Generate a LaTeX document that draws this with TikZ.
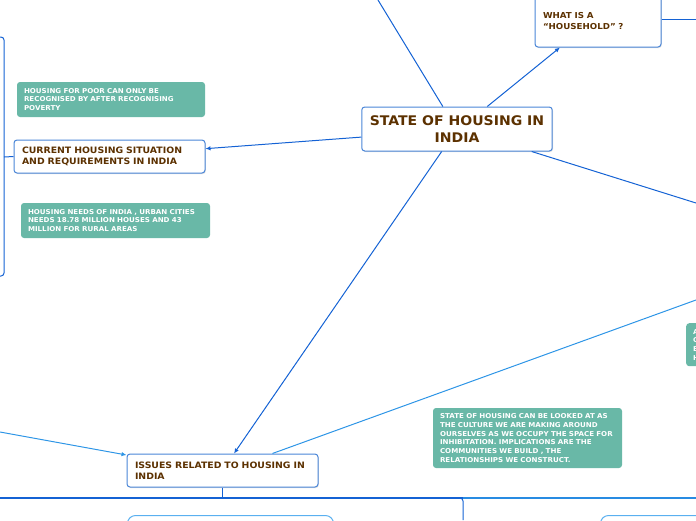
\documentclass[tikz,border=0pt]{standalone}
\usepackage{fontspec}
\setmainfont[FakeStretch=1.06]{DejaVu Sans}
\usetikzlibrary{calc,arrows.meta,shadows}
\definecolor{dblue}{HTML}{1462D4}
\definecolor{lblue}{HTML}{2D95E6}
\definecolor{bordblue}{HTML}{4A86D8}
\definecolor{tealbox}{HTML}{69B8A7}
\definecolor{brown}{HTML}{5C3100}
\definecolor{pale}{HTML}{5AB0F0}
\tikzset{
  mainbox/.style={draw=bordblue, line width=1pt, fill=white, rounded corners=3pt,
    drop shadow={shadow xshift=0.8pt, shadow yshift=-1pt, opacity=0.25},
    text=brown, inner xsep=8pt, inner ysep=3pt},
  notebox/.style={fill=tealbox, rounded corners=3pt, text=white, inner xsep=7pt, inner ysep=3pt,
    align=left, font=\bfseries\fontsize{6.7}{8.7}\selectfont},
  subbox/.style={draw=pale, line width=1pt, fill=white, rounded corners=8pt},
  link/.style={draw=dblue, line width=1pt},
  llink/.style={draw=lblue, line width=1pt},
  arr/.style={-{Latex[length=5pt,width=4.5pt]}},
}
\begin{document}
\begin{tikzpicture}[x=1pt,y=-1pt]
\useasboundingbox (0,0) rectangle (696,520);
\clip (0,0) rectangle (696,520);

% off-canvas coordinates
\coordinate (topout) at (378,0);
\coordinate (whatout) at (696,19);
\coordinate (rightout) at (696,203);
\coordinate (right2out) at (696,300);
\coordinate (leftout) at (0,432);
\coordinate (spine) at (4,157);
\coordinate (brtop) at (0,37);
\coordinate (brbot) at (0,276);
\coordinate (hl) at (0,498);
\coordinate (hr) at (696,498);
\coordinate (hcorner) at (463,498);
\coordinate (hdown) at (463,520);

% boxes
\node[mainbox, minimum width=190pt, minimum height=44pt, align=center,
  font=\bfseries\fontsize{13.25}{17}\selectfont] (c) at (457,129) {STATE OF HOUSING IN\\INDIA};
\node[mainbox, minimum width=191pt, minimum height=33pt, text width=175pt, align=left,
  font=\bfseries\fontsize{8.8}{11}\selectfont] (cur) at (109.5,156.5) {CURRENT HOUSING SITUATION\\AND REQUIREMENTS IN INDIA};
\node[mainbox, minimum width=191pt, minimum height=33pt, text width=175pt, align=left,
  font=\bfseries\fontsize{8.8}{11}\selectfont] (iss) at (222.5,470.5) {ISSUES RELATED TO HOUSING IN\\INDIA};
\node[mainbox, minimum width=126pt, minimum height=52pt, text width=110pt, align=left,
  font=\bfseries\fontsize{8.2}{11}\selectfont] (what) at (598,21) {WHAT IS A\\“HOUSEHOLD” ?};

\node[notebox, minimum width=188pt, minimum height=35pt, text width=174pt] (n1) at (111,99.5)
  {HOUSING FOR POOR CAN ONLY BE\\RECOGNISED BY AFTER RECOGNISING\\POVERTY};
\node[notebox, minimum width=189pt, minimum height=35pt, text width=175pt] (n2) at (115.5,220.5)
  {HOUSING NEEDS OF INDIA , URBAN CITIES\\NEEDS 18.78 MILLION HOUSES AND 43\\MILLION FOR RURAL AREAS};
\node[notebox, minimum width=189pt, minimum height=60pt, text width=175pt] (n3) at (527.5,438)
  {STATE OF HOUSING CAN BE LOOKED AT AS\\THE CULTURE WE ARE MAKING AROUND\\OURSELVES AS WE OCCUPY THE SPACE FOR\\INHIBITATION. IMPLICATIONS ARE THE\\COMMUNITIES WE BUILD , THE\\RELATIONSHIPS WE CONSTRUCT.};
\node[notebox, minimum width=60pt, minimum height=43pt, text width=46pt, anchor=north west] (n4) at (686,323)
  {A\\C\\E\\H};

\node[subbox, minimum width=206pt, minimum height=40pt, anchor=north west] (s1) at (127,515) {};
\node[subbox, minimum width=150pt, minimum height=40pt, anchor=north west] (s2) at (600,515) {};

% connectors
\draw[link] ($(c.north west)!0.426!(c.north east)$) -- (topout);
\draw[link, arr] ($(c.north west)!0.658!(c.north east)$) -- ($(what.south west)!0.2!(what.south east)$);
\draw[link] (what.east |- whatout) -- (whatout);
\draw[link, arr] ($(c.north west)!0.68!(c.south west)$) -- ($(cur.north east)!0.27!(cur.south east)$);
\draw[link] ($(c.south west)!0.89!(c.south east)$) -- (rightout);
\draw[link, arr] ($(c.south west)!0.42!(c.south east)$) -- ($(iss.north west)!0.56!(iss.north east)$);
\draw[llink] ($(iss.north west)!0.76!(iss.north east)$) -- (right2out);
\draw[llink, arr] (leftout) -- ($(iss.north west)+(0,1.5)$);

% left bracket
\draw[link, rounded corners=3pt] (brtop) -- (brtop -| spine) -- (brbot -| spine) -- (brbot);
\draw[link] (spine) -- (cur.west);

% bottom tree
\draw[link] (iss.south) -- (iss.south |- hl);
\draw[link, line width=1.6pt] (hl) -- (hcorner);
\draw[draw=lblue!80!dblue, line width=1.6pt] (hcorner) -- (hr);
\draw[link, rounded corners=3pt] ($(hcorner)+(-6,0)$) -- (hcorner) -- (hdown);
\end{tikzpicture}
\end{document}
